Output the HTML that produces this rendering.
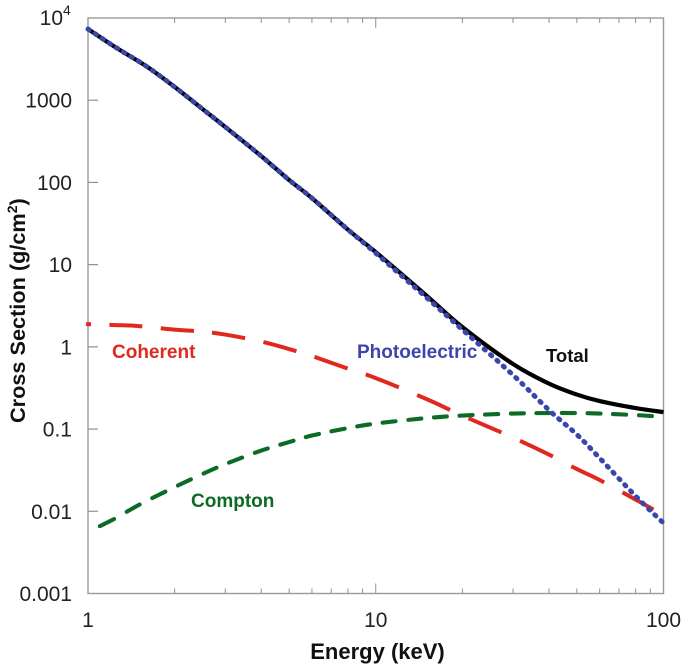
<!DOCTYPE html>
<html lang="en">
<head>
<meta charset="utf-8">
<title>Cross Section vs Energy</title>
<style>
  html, body { margin: 0; padding: 0; background: #fff; }
  svg { display: block; }
  text { font-family: "Liberation Sans", Arial, sans-serif; }
  .tick-label { font-size: 21px; fill: #222; }
  .axis-title { font-size: 22px; font-weight: bold; fill: #111; }
  .series-label { font-size: 19px; font-weight: bold; }
</style>
</head>
<body>
<svg id="chart" width="685" height="668" viewBox="0 0 685 668" xmlns="http://www.w3.org/2000/svg">
  <g id="axes"></g>
  <g id="series"></g>
  <g id="labels"></g>
  <text class="axis-title" style="font-size:21.7px" transform="translate(25,423) rotate(-90)">Cross Section (g/cm<tspan font-size="14" dy="-8">2</tspan><tspan dy="8">)</tspan></text>
  <text class="axis-title" x="377.5" y="659" text-anchor="middle">Energy (keV)</text>
  <text class="series-label" x="112" y="358" fill="#e0281f">Coherent</text>
  <text class="series-label" x="357" y="358" fill="#3a46ad">Photoelectric</text>
  <text class="series-label" x="546" y="362" fill="#111" style="font-size:18.5px">Total</text>
  <text class="series-label" x="191" y="507" fill="#0c6b24">Compton</text>
</svg>
<script>
const xTickValues = [1, 10, 100];
const xTickLabels = ["1", "10", "100"];
const xMinorTicks = [2, 3, 4, 5, 6, 7, 8, 9, 20, 30, 40, 50, 60, 70, 80, 90];
const yTickValues = [1000, 100, 10, 1, 0.1, 0.01, 0.001];
const yTickLabels = ["1000", "100", "10", "1", "0.1", "0.01", "0.001"];

const totalEnergy = [1, 1.25, 1.6, 2, 2.5, 3, 4, 5, 6, 8, 10, 15, 20, 30, 40, 50, 60, 80, 100];
const totalValues = [7350, 4378, 2570, 1449, 782, 472, 209, 107, 64.5, 26.7, 14.2, 4.21, 1.74, 0.618, 0.357, 0.263, 0.219, 0.18, 0.161];

const photoEnergy = [1, 1.25, 1.6, 2, 2.5, 3, 4, 5, 6, 8, 10, 15, 20, 30, 40, 50, 60, 80, 100];
const photoValues = [7350, 4378, 2570, 1449, 782, 472, 209, 107, 64.5, 26.7, 13.8, 3.98, 1.62, 0.454, 0.17, 0.0857, 0.0444, 0.0153, 0.00718];

const coherentEnergy = [0.985, 1.25, 1.5, 2, 2.5, 3, 4, 5, 6, 8, 10, 15, 20, 30, 40, 50, 60, 80, 92.3];
const coherentValues = [1.89, 1.84, 1.79, 1.62, 1.53, 1.41, 1.16, 0.94, 0.773, 0.544, 0.417, 0.232, 0.146, 0.0788, 0.049, 0.0326, 0.024, 0.01387, 0.0105];

const comptonEnergy = [1.1, 1.25, 1.5, 2, 2.5, 3, 4, 5, 6, 8, 10, 15, 20, 30, 40, 50, 60, 80, 91.5];
const comptonValues = [0.0066, 0.00826, 0.0119, 0.0197, 0.0284, 0.0375, 0.0547, 0.0695, 0.0834, 0.1028, 0.1167, 0.136, 0.146, 0.1545, 0.1567, 0.1567, 0.1545, 0.148, 0.1438];

const NS = "http://www.w3.org/2000/svg";
const plotLeft = 88, plotRight = 663.5, plotTop = 18, plotBottom = 593.5;
function xScale(e) { return plotLeft + (plotRight - plotLeft) * Math.log10(e) / 2; }
function yScale(v) { return plotTop + (plotBottom - plotTop) * (4 - Math.log10(v)) / 7; }

const axes = document.getElementById("axes");
const seriesGroup = document.getElementById("series");
const labels = document.getElementById("labels");

function tickLine(x1, y1, x2, y2, width) {
  const l = document.createElementNS(NS, "line");
  l.setAttribute("x1", x1);
  l.setAttribute("y1", y1);
  l.setAttribute("x2", x2);
  l.setAttribute("y2", y2);
  l.setAttribute("stroke", "#8f8f8f");
  l.setAttribute("stroke-width", width);
  
  
  axes.appendChild(l);
}

const frame = document.createElementNS(NS, "rect");
frame.setAttribute("x", plotLeft);
frame.setAttribute("y", plotTop);
frame.setAttribute("width", plotRight - plotLeft);
frame.setAttribute("height", plotBottom - plotTop);
frame.setAttribute("fill", "none");
frame.setAttribute("stroke", "#9a9a9a");
frame.setAttribute("stroke-width", "1.4");


axes.appendChild(frame);

xMinorTicks.forEach(function (e) {
  const x = xScale(e);
  tickLine(x, plotBottom, x, plotBottom - 5, 1);
  tickLine(x, plotTop, x, plotTop + 5, 1);
});
xTickValues.slice(1, 2).forEach(function (e) {
  const x = xScale(e);
  tickLine(x, plotBottom, x, plotBottom - 10, 1);
  tickLine(x, plotTop, x, plotTop + 10, 1);
});
yTickValues.slice(0, 6).forEach(function (v) {
  const y = yScale(v);
  tickLine(plotLeft, y, plotLeft + 10, y, 1.2);
});

// Smooth curve through the data points (Catmull-Rom converted to cubic Bezier).
function smoothPath(energy, values) {
  const pts = energy.map(function (e, i) { return [xScale(e), yScale(values[i])]; });
  let d = "M" + pts[0][0].toFixed(2) + " " + pts[0][1].toFixed(2);
  for (let i = 0; i < pts.length - 1; i++) {
    const p0 = pts[Math.max(i - 1, 0)];
    const p1 = pts[i];
    const p2 = pts[i + 1];
    const p3 = pts[Math.min(i + 2, pts.length - 1)];
    const c1x = p1[0] + (p2[0] - p0[0]) / 6;
    const c1y = p1[1] + (p2[1] - p0[1]) / 6;
    const c2x = p2[0] - (p3[0] - p1[0]) / 6;
    const c2y = p2[1] - (p3[1] - p1[1]) / 6;
    d += "C" + c1x.toFixed(2) + " " + c1y.toFixed(2) + " " + c2x.toFixed(2) + " " + c2y.toFixed(2) + " " + p2[0].toFixed(2) + " " + p2[1].toFixed(2);
  }
  return d;
}

function addSeries(name, energy, values, color, width, dash, cap) {
  const p = document.createElementNS(NS, "path");
  p.setAttribute("d", smoothPath(energy, values));
  p.setAttribute("fill", "none");
  p.setAttribute("stroke", color);
  p.setAttribute("stroke-width", width);
  p.setAttribute("stroke-linejoin", "round");
  p.setAttribute("stroke-linecap", cap);
  if (dash) p.setAttribute("stroke-dasharray", dash);
  
  
  seriesGroup.appendChild(p);
  return p;
}

// Dashes in the reference repeat evenly along the horizontal axis, so the
// dash pattern is derived by walking the path and testing its x position.
function horizontalDashes(path, phaseX, periodX, dashX) {
  const total = path.getTotalLength();
  const step = 0.25;
  const runs = [];
  let runLength = 0;
  let state = true;
  let first = true;
  for (let s = 0; s < total; s += step) {
    const x = path.getPointAtLength(s).x;
    const m = ((x - phaseX) % periodX + periodX) % periodX;
    const on = m < dashX;
    if (first) {
      if (!on) runs.push(0);
      state = on;
      first = false;
    }
    if (on !== state) {
      runs.push(runLength);
      runLength = 0;
      state = on;
    }
    runLength += step;
  }
  runs.push(runLength);
  if (runs.length % 2 === 1) runs.push(total);
  return runs.map(function (r) { return r.toFixed(2); }).join(" ");
}

addSeries("total-line", totalEnergy, totalValues, "#000", 4.2, "", "butt");
const coherentPath = addSeries("coherent-line", coherentEnergy, coherentValues, "#e0281f", 4, "", "butt");
coherentPath.setAttribute("stroke-dasharray", horizontalDashes(coherentPath, 58, 51.3, 33));
const comptonPath = addSeries("compton-line", comptonEnergy, comptonValues, "#0c6b24", 4.1, "", "round");
comptonPath.setAttribute("stroke-dasharray", horizontalDashes(comptonPath, 101, 25.6, 13));
addSeries("photoelectric-line", photoEnergy, photoValues, "#3a46ad", 5, "1.5 7", "round");

function addLabel(name, str, x, y, anchor, size) {
  const t = document.createElementNS(NS, "text");
  t.setAttribute("class", "tick-label");
  t.setAttribute("x", x);
  t.setAttribute("y", y);
  t.setAttribute("text-anchor", anchor);
  if (size) t.style.fontSize = size + "px";
  
  
  t.textContent = str;
  labels.appendChild(t);
}

yTickValues.forEach(function (v, i) {
  addLabel("y-tick-label", yTickLabels[i], 72, yScale(v) + 7.5, "end");
});
addLabel("y-tick-label", "10", 63, 25, "end");
addLabel("y-tick-label", "4", 63, 15, "start", 14);
xTickValues.forEach(function (e, i) {
  addLabel("x-tick-label", xTickLabels[i], xScale(e), 627, "middle");
});
</script>
</body>
</html>
